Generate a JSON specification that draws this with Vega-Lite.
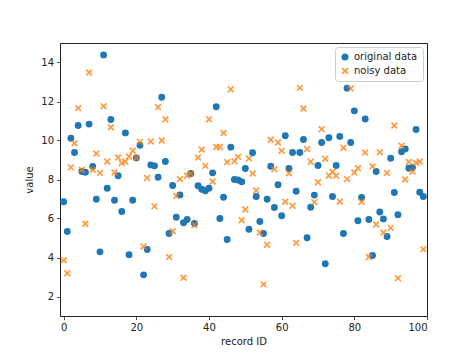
{
  "$schema": "https://vega.github.io/schema/vega-lite/v6.json",
  "width": 367,
  "height": 273,
  "autosize": {"type": "none"},
  "padding": {"left": 60, "top": 43, "right": 47, "bottom": 39},
  "background": "white",
  "config": {
    "font": "DejaVu Sans",
    "view": {"stroke": "#222", "strokeWidth": 1},
    "axis": {
      "grid": false,
      "domain": false,
      "tickColor": "#222",
      "tickSize": 3.5,
      "tickWidth": 0.8,
      "labelFont": "DejaVu Sans",
      "labelFontSize": 10,
      "labelColor": "#222",
      "labelPadding": 3,
      "titleFont": "DejaVu Sans",
      "titleFontSize": 10,
      "titleFontWeight": "normal",
      "titleColor": "#222"
    }
  },
  "data": {"values": [
    {"id":0,"value":6.86,"series":"original data"},{"id":1,"value":5.33,"series":"original data"},{"id":2,"value":10.12,"series":"original data"},{"id":3,"value":9.38,"series":"original data"},{"id":4,"value":10.77,"series":"original data"},{"id":5,"value":8.41,"series":"original data"},{"id":6,"value":8.37,"series":"original data"},{"id":7,"value":10.84,"series":"original data"},{"id":8,"value":8.67,"series":"original data"},{"id":9,"value":6.99,"series":"original data"},
    {"id":10,"value":4.29,"series":"original data"},{"id":11,"value":14.39,"series":"original data"},{"id":12,"value":7.55,"series":"original data"},{"id":13,"value":11.08,"series":"original data"},{"id":14,"value":6.94,"series":"original data"},{"id":15,"value":8.19,"series":"original data"},{"id":16,"value":6.36,"series":"original data"},{"id":17,"value":10.39,"series":"original data"},{"id":18,"value":4.14,"series":"original data"},{"id":19,"value":6.94,"series":"original data"},
    {"id":20,"value":9.11,"series":"original data"},{"id":21,"value":9.76,"series":"original data"},{"id":22,"value":3.11,"series":"original data"},{"id":23,"value":4.41,"series":"original data"},{"id":24,"value":8.75,"series":"original data"},{"id":25,"value":8.7,"series":"original data"},{"id":26,"value":8.12,"series":"original data"},{"id":27,"value":12.22,"series":"original data"},{"id":28,"value":8.92,"series":"original data"},{"id":29,"value":5.23,"series":"original data"},
    {"id":30,"value":7.69,"series":"original data"},{"id":31,"value":6.07,"series":"original data"},{"id":32,"value":7.21,"series":"original data"},{"id":33,"value":5.78,"series":"original data"},{"id":34,"value":5.95,"series":"original data"},{"id":35,"value":8.31,"series":"original data"},{"id":36,"value":5.74,"series":"original data"},{"id":37,"value":7.68,"series":"original data"},{"id":38,"value":7.5,"series":"original data"},{"id":39,"value":7.42,"series":"original data"},
    {"id":40,"value":7.55,"series":"original data"},{"id":41,"value":8.34,"series":"original data"},{"id":42,"value":11.73,"series":"original data"},{"id":43,"value":6.0,"series":"original data"},{"id":44,"value":7.09,"series":"original data"},{"id":45,"value":4.92,"series":"original data"},{"id":46,"value":9.66,"series":"original data"},{"id":47,"value":8.0,"series":"original data"},{"id":48,"value":7.97,"series":"original data"},{"id":49,"value":7.88,"series":"original data"},
    {"id":50,"value":8.56,"series":"original data"},{"id":51,"value":5.45,"series":"original data"},{"id":52,"value":9.37,"series":"original data"},{"id":53,"value":7.13,"series":"original data"},{"id":54,"value":5.85,"series":"original data"},{"id":55,"value":5.23,"series":"original data"},{"id":56,"value":6.99,"series":"original data"},{"id":57,"value":8.68,"series":"original data"},{"id":58,"value":6.56,"series":"original data"},{"id":59,"value":7.73,"series":"original data"},
    {"id":60,"value":6.14,"series":"original data"},{"id":61,"value":10.24,"series":"original data"},{"id":62,"value":8.56,"series":"original data"},{"id":63,"value":9.38,"series":"original data"},{"id":64,"value":7.4,"series":"original data"},{"id":65,"value":9.38,"series":"original data"},{"id":66,"value":10.05,"series":"original data"},{"id":67,"value":5.01,"series":"original data"},{"id":68,"value":6.58,"series":"original data"},{"id":69,"value":7.2,"series":"original data"},
    {"id":70,"value":8.72,"series":"original data"},{"id":71,"value":9.9,"series":"original data"},{"id":72,"value":3.68,"series":"original data"},{"id":73,"value":10.14,"series":"original data"},{"id":74,"value":7.13,"series":"original data"},{"id":75,"value":8.72,"series":"original data"},{"id":76,"value":10.21,"series":"original data"},{"id":77,"value":5.23,"series":"original data"},{"id":78,"value":12.68,"series":"original data"},{"id":79,"value":9.9,"series":"original data"},
    {"id":80,"value":11.52,"series":"original data"},{"id":81,"value":5.88,"series":"original data"},{"id":82,"value":7.08,"series":"original data"},{"id":83,"value":11.1,"series":"original data"},{"id":84,"value":5.95,"series":"original data"},{"id":85,"value":4.1,"series":"original data"},{"id":86,"value":8.41,"series":"original data"},{"id":87,"value":6.33,"series":"original data"},{"id":88,"value":5.98,"series":"original data"},{"id":89,"value":5.08,"series":"original data"},
    {"id":90,"value":9.09,"series":"original data"},{"id":91,"value":7.33,"series":"original data"},{"id":92,"value":6.19,"series":"original data"},{"id":93,"value":9.42,"series":"original data"},{"id":94,"value":9.57,"series":"original data"},{"id":95,"value":8.58,"series":"original data"},{"id":96,"value":8.62,"series":"original data"},{"id":97,"value":10.56,"series":"original data"},{"id":98,"value":7.35,"series":"original data"},{"id":99,"value":7.13,"series":"original data"},
    {"id":0,"value":3.86,"series":"noisy data"},{"id":1,"value":3.19,"series":"noisy data"},{"id":2,"value":8.62,"series":"noisy data"},{"id":3,"value":9.86,"series":"noisy data"},{"id":4,"value":11.66,"series":"noisy data"},{"id":5,"value":8.5,"series":"noisy data"},{"id":6,"value":5.73,"series":"noisy data"},{"id":7,"value":13.49,"series":"noisy data"},{"id":8,"value":8.5,"series":"noisy data"},{"id":9,"value":9.33,"series":"noisy data"},
    {"id":10,"value":8.34,"series":"noisy data"},{"id":11,"value":11.76,"series":"noisy data"},{"id":12,"value":8.92,"series":"noisy data"},{"id":13,"value":10.68,"series":"noisy data"},{"id":14,"value":8.36,"series":"noisy data"},{"id":15,"value":9.13,"series":"noisy data"},{"id":16,"value":8.84,"series":"noisy data"},{"id":17,"value":8.92,"series":"noisy data"},{"id":18,"value":9.18,"series":"noisy data"},{"id":19,"value":9.47,"series":"noisy data"},
    {"id":20,"value":9.11,"series":"noisy data"},{"id":21,"value":9.93,"series":"noisy data"},{"id":22,"value":4.56,"series":"noisy data"},{"id":23,"value":8.08,"series":"noisy data"},{"id":24,"value":9.95,"series":"noisy data"},{"id":25,"value":6.63,"series":"noisy data"},{"id":26,"value":11.71,"series":"noisy data"},{"id":27,"value":10.0,"series":"noisy data"},{"id":28,"value":11.08,"series":"noisy data"},{"id":29,"value":4.03,"series":"noisy data"},
    {"id":30,"value":5.35,"series":"noisy data"},{"id":31,"value":7.16,"series":"noisy data"},{"id":32,"value":8.02,"series":"noisy data"},{"id":33,"value":2.96,"series":"noisy data"},{"id":34,"value":8.19,"series":"noisy data"},{"id":35,"value":8.3,"series":"noisy data"},{"id":36,"value":5.66,"series":"noisy data"},{"id":37,"value":9.13,"series":"noisy data"},{"id":38,"value":9.54,"series":"noisy data"},{"id":39,"value":8.7,"series":"noisy data"},
    {"id":40,"value":11.09,"series":"noisy data"},{"id":41,"value":7.9,"series":"noisy data"},{"id":42,"value":9.67,"series":"noisy data"},{"id":43,"value":9.67,"series":"noisy data"},{"id":44,"value":10.39,"series":"noisy data"},{"id":45,"value":8.89,"series":"noisy data"},{"id":46,"value":12.63,"series":"noisy data"},{"id":47,"value":8.94,"series":"noisy data"},{"id":48,"value":9.16,"series":"noisy data"},{"id":49,"value":5.91,"series":"noisy data"},
    {"id":50,"value":6.46,"series":"noisy data"},{"id":51,"value":9.08,"series":"noisy data"},{"id":52,"value":8.31,"series":"noisy data"},{"id":53,"value":7.44,"series":"noisy data"},{"id":54,"value":5.28,"series":"noisy data"},{"id":55,"value":2.62,"series":"noisy data"},{"id":56,"value":4.65,"series":"noisy data"},{"id":57,"value":10.04,"series":"noisy data"},{"id":58,"value":8.53,"series":"noisy data"},{"id":59,"value":9.9,"series":"noisy data"},
    {"id":60,"value":9.47,"series":"noisy data"},{"id":61,"value":6.86,"series":"noisy data"},{"id":62,"value":8.32,"series":"noisy data"},{"id":63,"value":6.65,"series":"noisy data"},{"id":64,"value":4.75,"series":"noisy data"},{"id":65,"value":12.7,"series":"noisy data"},{"id":66,"value":11.64,"series":"noisy data"},{"id":67,"value":9.56,"series":"noisy data"},{"id":68,"value":8.91,"series":"noisy data"},{"id":69,"value":6.84,"series":"noisy data"},
    {"id":70,"value":7.86,"series":"noisy data"},{"id":71,"value":10.58,"series":"noisy data"},{"id":72,"value":9.06,"series":"noisy data"},{"id":73,"value":8.19,"series":"noisy data"},{"id":74,"value":8.4,"series":"noisy data"},{"id":75,"value":8.19,"series":"noisy data"},{"id":76,"value":6.87,"series":"noisy data"},{"id":77,"value":9.63,"series":"noisy data"},{"id":78,"value":8.02,"series":"noisy data"},{"id":79,"value":12.67,"series":"noisy data"},
    {"id":80,"value":8.36,"series":"noisy data"},{"id":81,"value":8.58,"series":"noisy data"},{"id":82,"value":6.86,"series":"noisy data"},{"id":83,"value":9.38,"series":"noisy data"},{"id":84,"value":4.03,"series":"noisy data"},{"id":85,"value":8.67,"series":"noisy data"},{"id":86,"value":5.69,"series":"noisy data"},{"id":87,"value":9.4,"series":"noisy data"},{"id":88,"value":5.28,"series":"noisy data"},{"id":89,"value":8.34,"series":"noisy data"},
    {"id":90,"value":5.52,"series":"noisy data"},{"id":91,"value":10.77,"series":"noisy data"},{"id":92,"value":2.94,"series":"noisy data"},{"id":93,"value":9.73,"series":"noisy data"},{"id":94,"value":8.0,"series":"noisy data"},{"id":95,"value":8.9,"series":"noisy data"},{"id":96,"value":8.41,"series":"noisy data"},{"id":97,"value":8.86,"series":"noisy data"},{"id":98,"value":8.92,"series":"noisy data"},{"id":99,"value":4.43,"series":"noisy data"}
  ]},
  "mark": {"type": "point", "filled": true, "size": 48, "strokeWidth": 0},
  "encoding": {
    "x": {
      "field": "id", "type": "quantitative", "title": "record ID",
      "scale": {"domain": [-1, 100], "nice": false, "zero": false},
      "axis": {"values": [0, 20, 40, 60, 80, 100], "titlePadding": 4}
    },
    "y": {
      "field": "value", "type": "quantitative", "title": "value",
      "scale": {"domain": [1, 15], "nice": false, "zero": false},
      "axis": {"values": [2, 4, 6, 8, 10, 12, 14], "titlePadding": 6}
    },
    "color": {
      "field": "series", "type": "nominal",
      "scale": {"domain": ["original data", "noisy data"], "range": ["#1f77b4", "#ff7f0e"]},
      "legend": {
        "title": null,
        "orient": "top-right",
        "offset": 4,
        "labelFont": "DejaVu Sans",
        "labelFontSize": 10,
        "labelColor": "#222",
        "symbolSize": 50,
        "symbolStrokeWidth": 0,
        "rowPadding": 4,
        "padding": 5,
        "strokeColor": "#cccccc",
        "fillColor": "white",
        "cornerRadius": 3
      }
    },
    "shape": {
      "field": "series", "type": "nominal",
      "scale": {"domain": ["original data", "noisy data"], "range": ["circle", "M-1,-0.66L-0.66,-1L0,-0.34L0.66,-1L1,-0.66L0.34,0L1,0.66L0.66,1L0,0.34L-0.66,1L-1,0.66L-0.34,0Z"]}
    },
    "opacity": {
      "field": "series", "type": "nominal",
      "scale": {"domain": ["original data", "noisy data"], "range": [1, 0.8]},
      "legend": null
    }
  }
}
